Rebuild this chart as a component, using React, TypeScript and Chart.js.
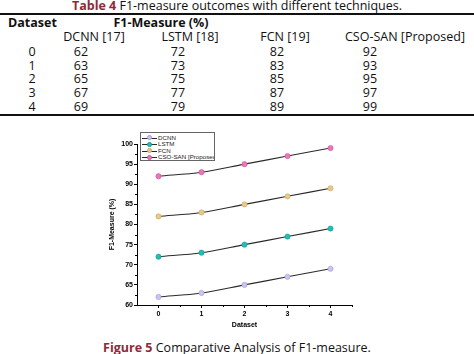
import React, { useEffect, useRef } from "react";
import { Chart, registerables } from "chart.js";

Chart.register(...registerables);

const categories = [0, 1, 2, 3, 4];
const seriesNames = ["DCNN", "LSTM", "FCN", "CSO-SAN [Proposed]"];
const tableHeaders = ["DCNN [17]", "LSTM [18]", "FCN [19]", "CSO-SAN [Proposed]"];
const dcnn = [62, 63, 65, 67, 69];
const lstm = [72, 73, 75, 77, 79];
const fcn = [82, 83, 85, 87, 89];
const csoSan = [92, 93, 95, 97, 99];
const yTicks = [60, 65, 70, 75, 80, 85, 90, 95, 100];
const seriesColors = ["#c8c6f0", "#1ebfb6", "#e9c98a", "#ec76bc"];
const seriesBorders = ["#9d9ad8", "#149a93", "#c9a660", "#cf4f9b"];

const allSeries = [dcnn, lstm, fcn, csoSan];

const minorTicks = {
  id: "minorTicks",
  afterDraw(chart: any) {
    const ctx = chart.ctx;
    const xs = chart.scales.x;
    const ys = chart.scales.y;
    const area = chart.chartArea;
    ctx.save();
    ctx.strokeStyle = "#000";
    ctx.lineWidth = 1;
    ctx.beginPath();
    for (let i = 0; i < categories.length; i++) {
      const v = categories[i] + 0.5;
      const px = Math.round(xs.getPixelForValue(v)) + 0.5;
      ctx.moveTo(px, area.bottom);
      ctx.lineTo(px, area.bottom + 2);
    }
    for (let i = 0; i < yTicks.length - 1; i++) {
      const v = (yTicks[i] + yTicks[i + 1]) / 2;
      const py = Math.round(ys.getPixelForValue(v)) + 0.5;
      ctx.moveTo(area.left, py);
      ctx.lineTo(area.left - 2, py);
    }
    ctx.stroke();
    ctx.restore();
  },
};

const tableFont = "'Open Sans', Lato, sans-serif";
const tableSize = 12.5;

function ChartView() {
  const ref = useRef<HTMLCanvasElement | null>(null);
  useEffect(() => {
    if (!ref.current) return;
    const chart = new Chart(ref.current, {
      type: "line",
      data: {
        datasets: allSeries.map((s, i) => ({
          label: seriesNames[i],
          data: s.map((v, j) => ({ x: categories[j], y: v })),
          borderColor: "#2a2a2a",
          borderWidth: 1.1,
          cubicInterpolationMode: "monotone" as const,
          pointRadius: 2.6,
          pointBackgroundColor: seriesColors[i],
          pointBorderColor: seriesBorders[i],
          pointBorderWidth: 0.6,
          fill: false,
        })),
      },
      options: {
        animation: false,
        responsive: false,
        maintainAspectRatio: false,
        layout: { padding: { top: 19, right: 13, bottom: 0, left: 0 } },
        plugins: { legend: { display: false }, tooltip: { enabled: false } },
        scales: {
          x: {
            type: "linear",
            min: -0.5,
            max: 4.5,
            afterFit: (s: any) => {
              s.height = 26;
            },
            afterBuildTicks: (s: any) => {
              s.ticks = categories.map((v) => ({ value: v }));
            },
            grid: {
              display: true,
              drawOnChartArea: false,
              drawTicks: true,
              tickLength: 3,
              color: "#000",
            },
            border: { display: true, color: "#000", width: 1 },
            ticks: {
              color: "#000",
              font: { family: "'Liberation Sans', Arial", size: 7, weight: "bold" },
              padding: 2,
              maxRotation: 0,
            },
            title: {
              display: true,
              text: "Dataset",
              color: "#000",
              font: { family: "'Liberation Sans', Arial", size: 7, weight: "bold" },
              padding: { top: 2, bottom: 2 },
            },
          },
          y: {
            min: 60,
            max: 100,
            afterFit: (s: any) => {
              s.width = 42;
            },
            afterBuildTicks: (s: any) => {
              s.ticks = yTicks.map((v) => ({ value: v }));
            },
            grid: {
              display: true,
              drawOnChartArea: false,
              drawTicks: true,
              tickLength: 3,
              color: "#000",
            },
            border: { display: true, color: "#000", width: 1 },
            ticks: {
              color: "#000",
              font: { family: "'Liberation Sans', Arial", size: 7, weight: "bold" },
              padding: 1,
            },
            title: {
              display: true,
              text: "F1-Measure (%)",
              color: "#000",
              font: { family: "'Liberation Sans', Arial", size: 7, weight: "bold" },
              padding: { top: 12.8, bottom: 0 },
            },
          },
        },
      },
      plugins: [minorTicks],
    });
    return () => chart.destroy();
  }, []);
  return (
    <canvas
      ref={ref}
      width={270}
      height={206}
      style={{ position: "absolute", left: 95, top: 125, width: 270, height: 206 }}
    />
  );
}

function Legend() {
  return (
    <div
      style={{
        position: "absolute",
        left: 140,
        top: 132,
        width: 73,
        height: 27,
        border: "1px solid #666",
        background: "#fff",
        overflow: "hidden",
        fontFamily: "'Liberation Sans', Arial, sans-serif",
        fontSize: 6.2,
        color: "#222",
      }}
    >
      {seriesNames.map((n, i) => (
        <div
          key={n}
          style={{ position: "absolute", left: 1, top: 1.5 + i * 6.5, height: 6.5, display: "flex", alignItems: "center", whiteSpace: "nowrap" }}
        >
          <span style={{ position: "relative", display: "inline-block", width: 15, height: 6.5 }}>
            <span style={{ position: "absolute", left: 0, top: 3, width: 15, height: 1, background: "#2a2a2a" }} />
            <span
              style={{
                position: "absolute",
                left: 5,
                top: 0.8,
                width: 5,
                height: 5,
                borderRadius: "50%",
                background: seriesColors[i],
                boxSizing: "border-box",
                border: `0.6px solid ${seriesBorders[i]}`,
              }}
            />
          </span>
          <span style={{ marginLeft: 1, lineHeight: "6.5px" }}>{n}</span>
        </div>
      ))}
    </div>
  );
}

const headerCenters = [94, 190, 285, 405];
const valueCenters = [81, 178, 277, 370];
const rowYs = [52, 66, 79, 93, 107];

function Table() {
  const txt = (s: string, cx: number, cy: number, bold = false, key?: string) => (
    <div
      key={key}
      style={{
        position: "absolute",
        left: cx - 100,
        width: 200,
        top: cy - 8,
        height: 16,
        lineHeight: "16px",
        textAlign: "center",
        fontFamily: tableFont,
        fontSize: tableSize,
        fontWeight: bold ? 700 : 400,
        color: "#111",
        whiteSpace: "nowrap",
      }}
    >
      {s}
    </div>
  );
  return (
    <>
      <div
        style={{
          position: "absolute",
          left: 0,
          width: 474,
          top: -2,
          height: 16,
          lineHeight: "16px",
          textAlign: "center",
          fontFamily: tableFont,
          fontSize: tableSize,
          color: "#111",
          whiteSpace: "nowrap",
        }}
      >
        <span style={{ color: "#8e2b3b", fontWeight: 700 }}>Table 4</span> F1-measure outcomes with different techniques.
      </div>
      <div style={{ position: "absolute", left: 0, top: 13, width: 474, height: 2, background: "#111" }} />
      <div
        style={{
          position: "absolute",
          left: 8,
          top: 15,
          height: 16,
          lineHeight: "16px",
          fontFamily: tableFont,
          fontSize: tableSize,
          fontWeight: 700,
          color: "#111",
        }}
      >
        Dataset
      </div>
      {txt("F1-Measure (%)", 161, 23, true)}
      {tableHeaders.map((h, i) => txt(h, headerCenters[i], 37, false, "h" + i))}
      {categories.map((c, r) => (
        <React.Fragment key={"r" + r}>
          {txt(String(c), 32, rowYs[r], false)}
          {allSeries.map((s, i) => txt(String(s[r]), valueCenters[i], rowYs[r], false, "c" + r + i))}
        </React.Fragment>
      ))}
      <div style={{ position: "absolute", left: 0, top: 114, width: 474, height: 2, background: "#111" }} />
    </>
  );
}

export default function App() {
  return (
    <div
      style={{
        position: "fixed",
        left: 0,
        top: 0,
        width: 474,
        height: 354,
        background: "#fff",
        overflow: "hidden",
      }}
    >
      <Table />
      <ChartView />
      <Legend />
      <div
        style={{
          position: "absolute",
          left: 0,
          width: 474,
          top: 340,
          height: 16,
          lineHeight: "16px",
          textAlign: "center",
          fontFamily: tableFont,
          fontSize: tableSize,
          color: "#111",
          whiteSpace: "nowrap",
        }}
      >
        <span style={{ color: "#8e2b3b", fontWeight: 700 }}>Figure 5</span> Comparative Analysis of F1-measure.
      </div>
    </div>
  );
}
